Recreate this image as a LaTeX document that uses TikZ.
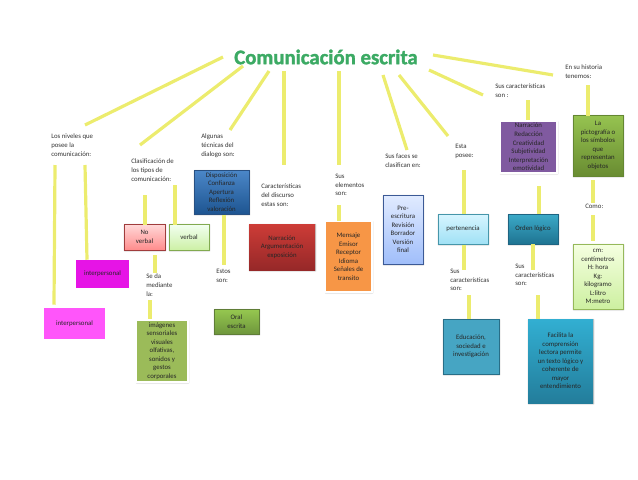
\documentclass[tikz,border=0pt]{standalone}
\usepackage{fontspec}
\setmainfont{Carlito}
\usetikzlibrary{shadows.blur}
\definecolor{ylin}{RGB}{236,236,110}
\tikzset{
  yline/.style={draw=ylin,line width=2.4pt,line cap=butt},
  txtlabel/.style={anchor=north west,inner sep=0pt,align=left,font=\fontsize{5.1}{6.4}\selectfont,text=black!80},
  boxsize/.style 2 args={boxtxt,minimum width=#1*0.75pt,minimum height=#2*0.75pt},
  boxtxt/.style={inner sep=0pt,align=center,font=\fontsize{5.1}{6.4}\selectfont,text=black!85},
  softshadow/.style={blur shadow={shadow blur steps=4,shadow xshift=0.4pt,shadow yshift=-0.6pt,shadow blur radius=1pt,shadow opacity=35}},
  whiteframe/.style={draw=white,line width=1.4pt,softshadow},
}
\begin{document}
\begin{tikzpicture}[x=0.75pt,y=0.75pt,yscale=-1,xscale=1]
\useasboundingbox (0,0) rectangle (638,479);

% Title
\node (title) [inner sep=0pt,font=\fontsize{15.6}{18}\selectfont\bfseries\addfontfeature{FakeBold=1.6},text={rgb,255:red,60;green,170;blue,100}] at (326,57) {Comunicación escrita};

% Text Node
\node (niveles) [txtlabel] at (51,134) {Los niveles que\\posee la\\comunicación:};
\node (clasif) [txtlabel] at (131,159) {Clasificación de\\los tipos de\\comunicación:};
\node (algunas) [txtlabel] at (201,134) {Algunas\\técnicas del\\dialogo son:};
\node (caract) [txtlabel] at (261,184) {Características\\del discurso\\estas son:};
\node (elementos) [txtlabel] at (335,174) {Sus\\elementos\\son:};
\node (fases) [txtlabel] at (385,154) {Sus faces se\\clasifican en:};
\node (posee) [txtlabel] at (455,144) {Esta\\posee:};
\node (suscar) [txtlabel] at (495,84) {Sus características\\son :};
\node (historia) [txtlabel] at (565,65) {En su historia\\tenemos:};
\node (sedia) [txtlabel] at (146,274) {Se da\\mediante\\la:};
\node (estos) [txtlabel] at (216,269) {Estos\\son:};
\node (como) [txtlabel] at (585,204) {Como:};
\node (suspert) [txtlabel] at (450,269) {Sus\\características\\son:};
\node (susorden) [txtlabel] at (515,264) {Sus\\características\\son:};

%Shape: Rectangle
\node (interup) [boxsize={53}{28},fill={rgb,255:red,230;green,20;blue,230}] at (102.5,274) {interpersonal};
\node (interlow) [boxsize={61}{31},fill={rgb,255:red,255;green,85;blue,250}] at (74.5,323.5) {interpersonal};
\node (noverbal) [boxsize={41}{26},draw={rgb,255:red,160;green,60;blue,60},top color=red!15,bottom color=red!45,softshadow] at (144.5,237) {No\\verbal};
\node (verbal) [boxsize={40}{26},draw={rgb,255:red,130;green,170;blue,80},top color=green!5!white,bottom color={rgb,255:red,205;green,240;blue,165},softshadow] at (189,237) {verbal};
\node (tecnicas) [boxsize={55}{44},draw={rgb,255:red,40;green,80;blue,130},top color={rgb,255:red,75;green,135;blue,200},bottom color={rgb,255:red,30;green,85;blue,145},softshadow] at (221.5,192) {Disposición\\Confianza\\Apertura\\Reflexión\\valoración};
\node (narracion) [boxsize={66}{46},top color={rgb,255:red,205;green,60;blue,55},bottom color={rgb,255:red,150;green,40;blue,40},softshadow] at (282,247) {Narración\\Argumentación\\exposición};
\node (mensaje) [boxsize={47}{71},whiteframe,fill={rgb,255:red,247;green,150;blue,70}] at (348.5,256.5) {Mensaje\\Emisor\\Receptor\\Idioma\\Señales de\\transito};
\node (pre) [boxsize={40}{69},draw={rgb,255:red,60;green,90;blue,150},top color={rgb,255:red,225;green,235;blue,255},bottom color={rgb,255:red,160;green,190;blue,250},softshadow] at (403,229.5) {Pre-\\escritura\\Revisión\\Borrador\\Versión\\final};
\node (pertenencia) [boxsize={50}{30},draw={rgb,255:red,70;green,150;blue,170},top color={rgb,255:red,215;green,245;blue,255},bottom color={rgb,255:red,160;green,225;blue,245},softshadow] at (463,229) {pertenencia};
\node (orden) [boxsize={50}{30},draw={rgb,255:red,30;green,100;blue,130},top color={rgb,255:red,60;green,170;blue,200},bottom color={rgb,255:red,30;green,115;blue,145},softshadow] at (533,229) {Orden lógico};
\node (cm) [boxsize={50}{65},draw={rgb,255:red,150;green,185;blue,90},top color={rgb,255:red,245;green,255;blue,225},bottom color={rgb,255:red,205;green,240;blue,160},softshadow] at (598,276.5) {cm:\\centímetros\\H: hora\\Kg:\\kilogramo\\L:litro\\M:metro};
\node (educacion) [boxsize={56}{55},draw={rgb,255:red,40;green,110;blue,135},fill={rgb,255:red,70;green,165;blue,195},softshadow] at (471,346.5) {Educación,\\sociedad e\\investigación};
\node (facilita) [boxsize={65}{84},top color={rgb,255:red,50;green,175;blue,210},bottom color={rgb,255:red,35;green,125;blue,155},softshadow] at (560.5,361) {Facilita la\\comprensión\\lectora permite\\un texto lógico y\\coherente de\\mayor\\entendimiento};
\node (purpura) [boxsize={57}{52},whiteframe,fill={rgb,255:red,128;green,90;blue,160}] at (528.5,147) {Narración\\Redacción\\Creatividad\\Subjetividad\\Interpretación\\emotividad};
\node (picto) [boxsize={50}{61},draw={rgb,255:red,100;green,135;blue,50},top color={rgb,255:red,150;green,195;blue,80},bottom color={rgb,255:red,105;green,140;blue,50},softshadow] at (598,145.5) {La\\pictografía o\\los símbolos\\que\\representan\\objetos};
\node (oral) [boxsize={45}{25},draw={rgb,255:red,95;green,125;blue,55},top color={rgb,255:red,150;green,200;blue,80},bottom color={rgb,255:red,110;green,150;blue,60},softshadow] at (236.5,321.5) {Oral\\escrita};
\node (imagenes) [boxsize={52}{62},whiteframe,fill={rgb,255:red,155;green,187;blue,89}] at (162,351) {imágenes\\sensoriales\\visuales\\olfativas,\\sonidos y\\gestos\\corporales};

%Straight Lines
\draw [yline] ([shift={(-103,0)}]title.center) -- ([shift={(34,-9)}]niveles.north west);
\draw [yline] ([shift={(-83,9)}]title.center) -- ([shift={(9,-14)}]clasif.north west);
\draw [yline] ([shift={(-57,14)}]title.center) -- ([shift={(29,-4)}]algunas.north west);
\draw [yline] ([shift={(-42,14)}]title.center) -- ([shift={(23,-19)}]caract.north west);
\draw [yline] ([shift={(13,14)}]title.center) -- ([shift={(4,-9)}]elementos.north west);
\draw [yline] ([shift={(57,18)}]title.center) -- ([shift={(22,-4)}]fases.north west);
\draw [yline] ([shift={(73,18)}]title.center) -- ([shift={(-7,-8)}]posee.north west);
\draw [yline] ([shift={(103,13)}]title.center) -- ([shift={(-12,11)}]suscar.north west);
\draw [yline] ([shift={(107,-2)}]title.center) -- ([shift={(-12,10)}]historia.north west);
\draw [yline] ([shift={(4,31)}]niveles.north west) -- ([shift={(-20.5,-3)}]interlow.north);
\draw [yline] ([shift={(34,31)}]niveles.north west) -- ([shift={(-15.5,0)}]interup.north);
\draw [yline] ([shift={(14,36)}]clasif.north west) -- ([shift={(0.5,1)}]noverbal.north);
\draw [yline] ([shift={(44,26)}]clasif.north west) -- ([shift={(-14,1)}]verbal.north);
\draw [yline] ([shift={(2.5,1)}]tecnicas.south) -- ([shift={(8,-4)}]estos.north west);
\draw [yline] ([shift={(10.5,5)}]noverbal.south) -- ([shift={(9,-1)}]sedia.north west);
\draw [yline] ([shift={(4,26)}]sedia.north west) -- ([shift={(-12,0)}]imagenes.north);
\draw [yline] ([shift={(4,31)}]elementos.north west) -- ([shift={(-9.5,1)}]mensaje.north);
\draw [yline] ([shift={(9,26)}]posee.north west) -- ([shift={(1,0)}]pertenencia.north);
\draw [yline] ([shift={(33,16)}]suscar.north west) -- ([shift={(-0.5,0)}]purpura.north);
\draw [yline] ([shift={(10.5,12)}]purpura.south) -- ([shift={(6,0)}]orden.north);
\draw [yline] ([shift={(23,20)}]historia.north west) -- ([shift={(-10,1)}]picto.north);
\draw [yline] ([shift={(-5,4)}]picto.south) -- ([shift={(8,-1)}]como.north west);
\draw [yline] ([shift={(8,11)}]como.north west) -- ([shift={(-5,-3)}]cm.north);
\draw [yline] ([shift={(1,1)}]pertenencia.south) -- ([shift={(14,1)}]suspert.north west);
\draw [yline] ([shift={(19,26)}]suspert.north west) -- ([shift={(-2,0)}]educacion.north);
\draw [yline] (orden.south) -- ([shift={(18,6)}]susorden.north west);
\draw [yline] ([shift={(23,31)}]susorden.north west) -- ([shift={(-22.5,0)}]facilita.north);

\end{tikzpicture}
\end{document}
